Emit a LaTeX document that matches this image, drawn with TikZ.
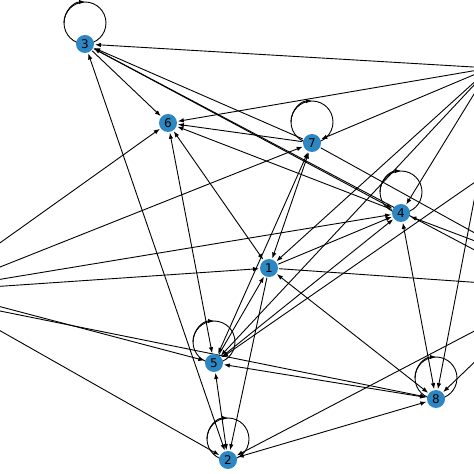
\documentclass[tikz,border=0pt]{standalone}
\usepackage{fontspec}
\setmainfont{DejaVu Sans}
\usetikzlibrary{arrows.meta, calc, backgrounds}
\definecolor{nodeblue}{RGB}{45,135,195}

\begin{document}
\begin{tikzpicture}[x=1pt, y=1pt,
    gnode/.style={circle, fill=nodeblue, inner sep=0pt, minimum size=18pt, outer sep=1pt, font=\fontsize{12}{12}\selectfont},
    link/.style={line width=0.9pt, -{Latex[length=6pt,width=4.5pt]}},
    twoway/.style={line width=0.9pt, {Latex[length=6pt,width=4.5pt]}-{Latex[length=6pt,width=4.5pt]}},
    selfloop/.style={line width=0.9pt}]

    \useasboundingbox (0,0) rectangle (474,474);

    % the eight nodes in view
    \node[gnode] (n1) at (269,206) {1};
    \node[gnode] (n2) at (228,14) {2};
    \node[gnode] (n3) at (85,430) {3};
    \node[gnode] (n4) at (401,261) {4};
    \node[gnode] (n5) at (214,111) {5};
    \node[gnode] (n6) at (168,351) {6};
    \node[gnode] (n7) at (312,331) {7};
    \node[gnode] (n8) at (436,75) {8};

    % ends that lie outside the frame
    \coordinate (q) at (490,406);
    \coordinate (la) at (-10,224);
    \coordinate (lb) at (-10,203);
    \coordinate (lc) at (-10,193);
    \coordinate (ld) at (-10,187);
    \coordinate (le) at (-10,170);
    \coordinate (lf) at (-10,165);
    \coordinate (lg) at (-10,149);
    \coordinate (pa) at (484,219);
    \coordinate (pb) at (520,216);
    \coordinate (rr) at (484,191);
    \coordinate (rv) at (478,294);
    \coordinate (rs) at (484,148);
    \coordinate (rt) at (484,121);

    \begin{scope}[on background layer]
        \clip (0,0) rectangle (474,474);

        % self loops
        \foreach \n in {n2,n3,n4,n5,n7,n8} {
            \draw[selfloop] ($(\n)+(0,21)$) circle[radius=21];
            \draw[link] ($(\n)+(-21,21)$) arc[start angle=180, end angle=90, radius=21];
        }

        \draw[link] (q) -- (n3);
        \draw[link] (q) -- (n6);
        \draw[link] (q) -- (n7);
        \draw[link] (q) -- (n1);
        \draw[link] (q) -- (n5);
        \draw[link] (q) -- (n4);

        \draw[link] (n7) -- (n3);
        \draw[link] (n3) -- (n4);
        \draw[link] (n3) -- (n6);
        \draw[twoway] (n3) -- (n2);
        \draw[link] (pa) -- (n3);

        \draw[link] (n7) -- (n6);
        \draw[link] (n4) -- (n6);
        \draw[twoway] (n6) -- (n1);
        \draw[twoway] (n6) -- (n5);
        \draw[link] (la) -- (n6);

        \draw[link] (lb) -- (n7);
        \draw[twoway] (n7) -- (n1);
        \draw[twoway] (n7) -- (n5);
        \draw[link] (n7) -- (pb);
        \draw[link] (pb) -- (n4);

        \draw[link] (lc) -- (n4);
        \draw[link] (n1) -- (n4);
        \draw[link] (n5) -- (n4);
        \draw[twoway] (n8) -- (n4);

        \draw[link] (ld) -- (n1);
        \draw[link] (n1) -- (rr);
        \draw[twoway] (n1) -- (n8);
        \draw[link] (n1) -- (n2);
        \draw[link] (n5) -- (n1);

        \draw[link] (le) -- (n5);
        \draw[link] (lf) -- (n8);
        \draw[twoway] (n5) -- (n8);
        \draw[twoway] (n5) -- (n2);
        \draw[link] (rv) -- (n5);
        \draw[link] (rv) -- (n8);

        \draw[link] (lg) -- (n2);
        \draw[twoway] (n2) -- (n8);
        \draw[link] (rs) -- (n2);
        \draw[link] (rt) -- (n8);
    \end{scope}
\end{tikzpicture}
\end{document}
